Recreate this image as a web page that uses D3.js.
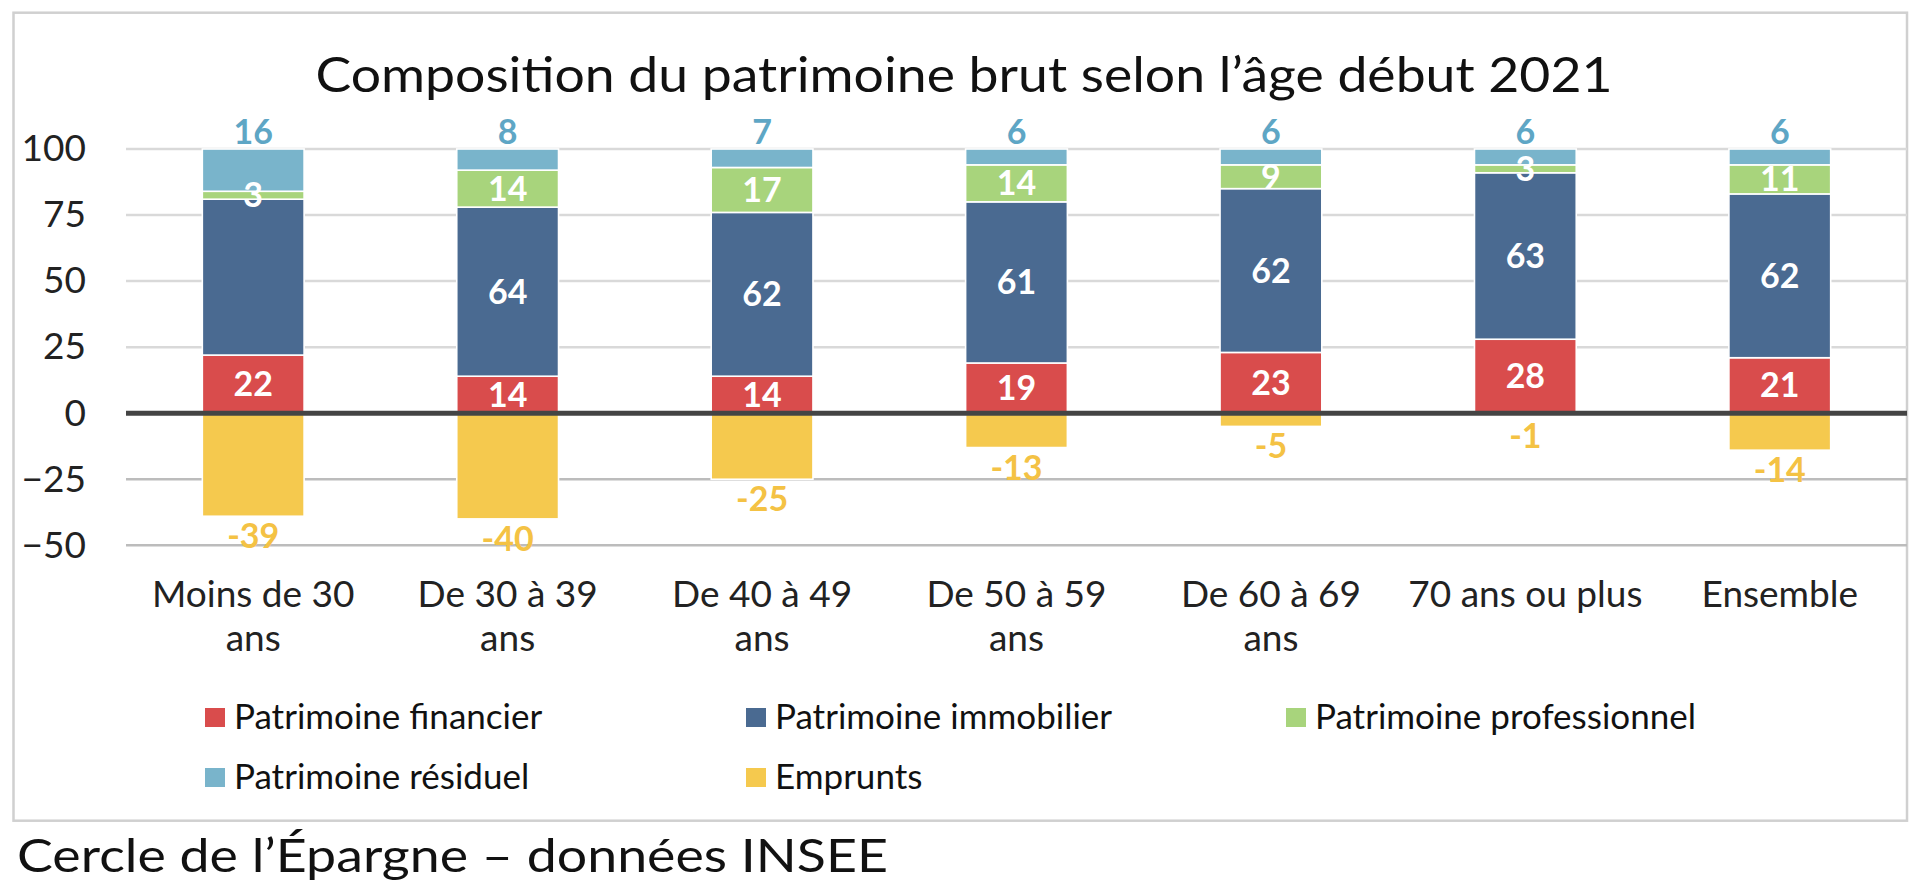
<!DOCTYPE html>
<html>
<head>
<meta charset="utf-8">
<script src="https://cdn.jsdelivr.net/npm/d3@7"></script>
<style>
  html, body { margin: 0; padding: 0; background: #ffffff; }
  svg { display: block; }
  text { font-family: Lato, "Open Sans", sans-serif; }
</style>
</head>
<body>
<script>
// ---- Data ----
const categories = ["Moins de 30 ans", "De 30 à 39 ans", "De 40 à 49 ans", "De 50 à 59 ans", "De 60 à 69 ans", "70 ans ou plus", "Ensemble"];
const categoryLabels = ["Moins de 30\nans", "De 30 à 39\nans", "De 40 à 49\nans", "De 50 à 59\nans", "De 60 à 69\nans", "70 ans ou plus", "Ensemble"];
const yTicks = [-50, -25, 0, 25, 50, 75, 100];

const financier     = [22, 14, 14, 19, 23, 28, 21];
const immobilier    = [59, 64, 62, 61, 62, 63, 62];
const professionnel = [3, 14, 17, 14, 9, 3, 11];
const residuel      = [16, 8, 7, 6, 6, 6, 6];
const emprunts      = [-39, -40, -25, -13, -5, -1, -14];

const seriesNames  = ["Patrimoine financier", "Patrimoine immobilier", "Patrimoine professionnel", "Patrimoine résiduel", "Emprunts"];
const seriesColors = ["#d94c4c", "#4a6a91", "#a8d47c", "#79b4cb", "#f5c94e"];
const labelColors  = ["#ffffff", "#ffffff", "#ffffff", "#5ea6c5", "#f4c244"];
// the reference shows no label on the first "immobilier" segment
const hiddenLabels = [{ series: 1, index: 0 }];

const titleText  = "Composition du patrimoine brut selon l\u2019âge début 2021";
const sourceText = "Cercle de l\u2019Épargne \u2013 données INSEE";

// ---- Layout ----
const W = 1920, H = 890;
const svg = d3.select("body").append("svg").attr("width", W).attr("height", H);

svg.append("rect").attr("x", 0).attr("y", 0).attr("width", W).attr("height", H).attr("fill", "#fff");
svg.append("rect")
  .attr("x", 13.5).attr("y", 12.7).attr("width", 1893.5).attr("height", 808)
  .attr("fill", "none").attr("stroke", "#d0d0d0").attr("stroke-width", 2.5);

const x = d3.scaleBand().domain(categories).range([126, 1907]).paddingInner(0.6).paddingOuter(0.3);
const y = d3.scaleLinear().domain([-50, 100]).range([545.3, 149]);

// Title
svg.append("text")
  .attr("x", 964).attr("y", 92)
  .attr("text-anchor", "middle")
  .attr("font-size", 48)
  .attr("fill", "#111")
  .attr("textLength", 1297).attr("lengthAdjust", "spacingAndGlyphs")
  .text(titleText);

// Gridlines
svg.append("g").selectAll("line")
  .data(yTicks.filter(t => t !== 0))
  .join("line")
  .attr("x1", 126).attr("x2", 1907)
  .attr("y1", d => y(d)).attr("y2", d => y(d))
  .attr("stroke", d => d < 0 ? "#bcbcbc" : "#d9d9d9").attr("stroke-width", 2.5);

// Y axis
const yAxis = svg.append("g")
  .attr("transform", "translate(126,0)")
  .call(d3.axisLeft(y).tickValues(yTicks).tickSize(0).tickPadding(40));
yAxis.select(".domain").remove();
yAxis.selectAll("text")
  .attr("font-family", "Lato, sans-serif")
  .attr("font-size", 37)
  .attr("fill", "#222");

// Stack data
const positive = [financier, immobilier, professionnel, residuel];
const stacked = [];
categories.forEach((c, i) => {
  let base = 0;
  positive.forEach((arr, s) => {
    stacked.push({ cat: c, index: i, series: s, y0: base, y1: base + arr[i], value: arr[i] });
    base += arr[i];
  });
  stacked.push({ cat: c, index: i, series: 4, y0: emprunts[i], y1: 0, value: emprunts[i] });
});

// Bars
svg.append("g").selectAll("rect")
  .data(stacked)
  .join("rect")
  .attr("x", d => x(d.cat))
  .attr("width", x.bandwidth())
  .attr("y", d => y(Math.max(d.y0, d.y1)))
  .attr("height", d => Math.abs(y(d.y0) - y(d.y1)))
  .attr("fill", d => seriesColors[d.series])
  .attr("stroke", "#ffffff").attr("stroke-width", 1.6);

// Zero line
svg.append("line")
  .attr("x1", 126).attr("x2", 1907)
  .attr("y1", y(0)).attr("y2", y(0))
  .attr("stroke", "#444444").attr("stroke-width", 5);

// Data labels
const isHidden = d => hiddenLabels.some(h => h.series === d.series && h.index === d.index);
svg.append("g").selectAll("text")
  .data(stacked.filter(d => !isHidden(d)))
  .join("text")
  .attr("x", d => x(d.cat) + x.bandwidth() / 2)
  .attr("y", d => {
    if (d.series === 3) return y(100) - 5;            // above the bar
    if (d.series === 4) return y(d.y0) + 32;          // below the bar end
    return y((d.y0 + d.y1) / 2) + 12;                 // centred in segment
  })
  .attr("text-anchor", "middle")
  .attr("font-size", 34)
  .attr("font-weight", "bold")
  .attr("fill", d => labelColors[d.series])
  .text(d => d.value);

// X axis labels
const xAxis = svg.append("g")
  .call(d3.axisBottom(x).tickSize(0).tickFormat(""));
xAxis.select(".domain").remove();
xAxis.selectAll(".tick").each(function(d, i) {
  const t = d3.select(this).append("text")
    .attr("text-anchor", "middle")
    .attr("font-family", "Lato, sans-serif")
    .attr("font-size", 37)
    .attr("fill", "#222")
    .attr("y", 607);
  categoryLabels[i].split("\n").forEach((line, k) => {
    t.append("tspan").attr("x", 0).attr("y", 607 + k * 44).text(line);
  });
});

// Legend
const legendPos = [[205, 708], [746, 708], [1286, 708], [205, 768], [746, 768]];
const legend = svg.append("g").selectAll("g")
  .data(seriesNames)
  .join("g")
  .attr("transform", (d, i) => `translate(${legendPos[i][0]},${legendPos[i][1]})`);
legend.append("rect")
  .attr("width", 20).attr("height", 19)
  .attr("fill", (d, i) => seriesColors[i]);
legend.append("text")
  .attr("x", 29).attr("y", 21)
  .attr("font-size", 35)
  .attr("fill", "#111")
  .text(d => d);

// Source
svg.append("text")
  .attr("x", 17).attr("y", 872)
  .attr("font-size", 46)
  .attr("fill", "#111")
  .attr("textLength", 871).attr("lengthAdjust", "spacingAndGlyphs")
  .text(sourceText);
</script>
</body>
</html>
